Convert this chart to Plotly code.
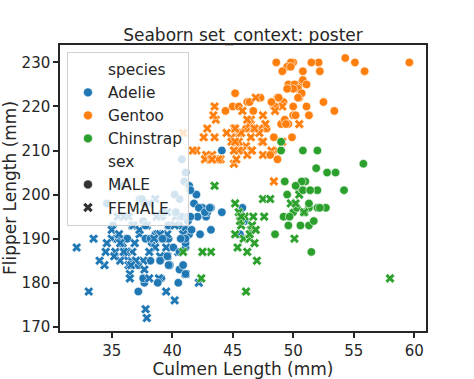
import plotly.graph_objects as go

# Adelie: culmen length, flipper length, sex (M/F)
adelie_culmen = [39.1, 39.5, 40.3, 36.7, 39.3, 38.9, 39.2, 41.1, 38.6, 34.6, 36.6, 38.7, 42.5, 34.4, 46.0,
                 37.8, 37.7, 35.9, 38.2, 38.8, 35.3, 40.6, 40.5, 37.9, 40.5,
                 39.5, 37.2, 39.5, 40.9, 36.4, 39.2, 38.8, 42.2, 37.6, 39.8, 36.5, 40.8, 36.0, 44.1, 37.0, 39.6, 41.1, 36.0, 42.3,
                 39.6, 40.1, 35.0, 42.0, 34.5, 41.4, 39.0, 40.6, 36.5, 37.6, 35.7, 41.3, 37.6, 41.1, 36.4, 41.6, 35.5, 41.1,
                 35.9, 41.8, 33.5, 39.7, 39.6, 45.8, 35.5, 42.8, 40.9, 37.2, 36.2, 42.1, 34.6, 42.9, 36.7, 35.1,
                 37.3, 41.3, 36.3, 36.9, 38.3, 38.9, 35.7, 41.1, 34.0, 39.6, 36.2, 40.8, 38.1, 40.3, 33.1, 43.2,
                 35.0, 41.0, 37.7, 37.8, 37.9, 39.7, 38.6, 38.2, 38.1, 43.2, 38.1, 45.6, 39.7, 42.2, 39.6, 42.7,
                 38.6, 37.3, 35.7, 41.1, 36.2, 37.7, 40.2, 41.4, 35.2, 40.6, 38.8, 41.5, 39.0, 44.1, 38.5, 43.1,
                 36.8, 37.5, 38.1, 41.1, 35.6, 40.2, 37.0, 39.7, 40.2, 40.6, 32.1, 40.7, 37.3, 39.0, 39.2, 36.6, 36.0, 37.8, 36.0, 41.5]
adelie_flipper = [181, 186, 195, 193, 190, 181, 195, 182, 191, 198, 185, 195, 197, 184, 194,
                  174, 180, 189, 185, 180, 187, 183, 187, 172, 180,
                  178, 178, 188, 184, 195, 196, 190, 180, 181, 184, 182, 195, 186, 196, 185, 190, 182, 190, 191,
                  186, 188, 190, 200, 187, 191, 186, 193, 181, 194, 185, 195, 185, 192, 184, 192, 195, 188,
                  190, 198, 190, 190, 196, 197, 190, 195, 191, 184, 187, 195, 189, 196, 187, 193,
                  191, 194, 190, 189, 189, 190, 202, 205, 185, 186, 187, 208, 190, 196, 178, 192,
                  192, 203, 183, 190, 193, 184, 199, 190, 181, 197, 198, 191, 193, 197, 191, 196,
                  188, 199, 189, 189, 187, 198, 176, 202, 186, 199, 191, 195, 191, 210, 190, 197,
                  193, 199, 187, 190, 191, 200, 185, 193, 193, 187, 188, 190, 192, 185, 190, 184, 195, 193, 187, 201]
adelie_sex = ["M", "F", "F", "F", "M", "F", "M", "F", "M", "M", "F", "F", "M", "F", "M",
              "F", "M", "F", "M", "M", "F", "M", "F", "F", "M",
              "F", "M", "F", "M", "F", "M", "M", "F", "M", "M", "F", "M", "F", "M", "F", "M", "M", "F", "M",
              "F", "M", "F", "M", "F", "M", "F", "M", "F", "M", "F", "M", "F", "M", "F", "M", "F", "M",
              "F", "M", "F", "M", "F", "M", "F", "M", "F", "M", "F", "M", "F", "M", "F", "M",
              "F", "M", "M", "F", "M", "F", "F", "M", "F", "M", "F", "M", "F", "M", "F", "M",
              "F", "M", "F", "M", "F", "M", "F", "M", "F", "M", "F", "M", "F", "M", "F", "M",
              "F", "M", "F", "M", "F", "M", "F", "M", "F", "M", "F", "M", "F", "M", "F", "M",
              "F", "M", "F", "M", "F", "M", "F", "M", "F", "M", "F", "M", "F", "M", "M", "F", "F", "M", "F", "M"]

gentoo_culmen = [46.1, 50.0, 48.7, 50.0, 47.6, 46.5, 45.4, 46.7, 43.3, 46.8, 40.9, 49.0, 45.5, 48.4, 45.8, 49.3,
                 42.0, 49.2, 46.2, 48.7, 50.2, 45.1, 46.5, 46.3, 42.9, 46.1, 47.8, 48.2, 50.0, 47.3, 42.8, 45.1,
                 59.6, 49.1, 48.4, 42.6, 44.4, 44.0, 48.7, 42.7, 49.6, 45.3, 49.6, 50.5, 43.6, 45.5, 50.5, 44.9,
                 45.2, 46.6, 48.5, 45.1, 50.1, 46.5, 45.0, 43.8, 45.5, 43.2, 50.4, 45.3, 46.2, 45.7, 54.3, 45.8,
                 49.8, 49.5, 43.5, 50.7, 47.7, 46.4, 48.2, 46.5, 46.4, 48.6, 47.5, 51.1, 45.2, 45.2, 49.1, 52.5,
                 47.4, 50.0, 44.9, 50.8, 43.4, 51.3, 47.5, 52.1, 47.5, 52.2, 45.5, 49.5, 44.5, 50.8, 49.4, 46.9,
                 48.4, 51.1, 48.5, 55.9, 47.2, 49.1, 46.8, 41.7, 53.4, 43.3, 48.1, 50.5, 49.8, 43.5, 51.5, 46.2,
                 55.1, 48.8, 47.2, 46.8, 50.4, 45.2, 49.9]
gentoo_flipper = [211, 230, 210, 218, 215, 210, 211, 219, 209, 215, 214, 216, 214, 213, 210, 217,
                  210, 221, 209, 222, 218, 215, 213, 215, 215, 215, 215, 210, 220, 222, 209, 207,
                  230, 220, 220, 213, 219, 208, 208, 208, 225, 210, 216, 222, 217, 210, 225, 213,
                  215, 210, 220, 210, 225, 217, 220, 208, 220, 208, 224, 208, 221, 214, 231, 219,
                  230, 229, 220, 223, 216, 221, 221, 217, 216, 230, 209, 220, 215, 223, 212, 221,
                  212, 224, 212, 228, 218, 218, 212, 230, 218, 228, 212, 224, 214, 226, 216, 222,
                  203, 225, 219, 228, 215, 228, 215, 210, 219, 208, 209, 216, 229, 213, 230, 217,
                  230, 222, 214, 215, 222, 212, 213]
gentoo_sex = ["F", "M", "F", "M", "M", "F", "F", "M", "F", "M", "F", "M", "F", "M", "F", "M",
              "F", "M", "F", "M", "M", "F", "F", "M", "F", "M", "M", "F", "M", "M", "F", "F",
              "M", "F", "M", "F", "M", "F", "M", "F", "M", "F", "M", "M", "F", "F", "M", "F",
              "M", "F", "M", "F", "M", "F", "M", "F", "M", "F", "M", "F", "M", "F", "M", "F",
              "M", "M", "F", "M", "F", "M", "M", "F", "F", "M", "F", "M", "F", "M", "F", "M",
              "F", "M", "F", "M", "F", "M", "F", "M", "F", "M", "F", "M", "F", "M", "M", "F",
              "F", "M", "F", "M", "F", "M", "M", "F", "M", "F", "M", "F", "M", "F", "M", "F",
              "M", "M", "F", "F", "M", "F", "M"]

chinstrap_culmen = [46.5, 50.0, 51.3, 45.4, 52.7, 45.2, 46.1, 51.3, 46.0, 51.3, 46.6, 51.7, 47.0, 52.0, 45.9, 50.5,
                    50.3, 58.0, 46.4, 49.2, 42.4, 48.5, 43.2, 50.6, 46.7, 52.0, 50.5, 49.5, 46.4, 52.8, 40.9, 54.2,
                    42.5, 51.0, 49.7, 47.5, 47.6, 52.0, 46.9, 53.5, 49.0, 46.2, 50.9, 45.5, 50.9, 50.8, 50.1, 49.0,
                    51.5, 49.8, 48.1, 51.4, 45.7, 50.7, 42.5, 52.2, 45.2, 49.3, 50.2, 45.6, 51.9, 46.8, 45.7, 55.8,
                    43.5, 49.6, 50.8, 50.2]
chinstrap_flipper = [192, 196, 193, 188, 197, 198, 178, 197, 195, 198, 193, 194, 185, 201, 190, 201,
                     197, 181, 190, 195, 181, 191, 187, 193, 195, 197, 200, 200, 191, 205, 187, 201,
                     187, 203, 195, 199, 195, 210, 192, 205, 210, 187, 196, 196, 196, 201, 190, 212,
                     187, 198, 199, 201, 193, 203, 187, 197, 191, 203, 202, 194, 206, 189, 195, 207,
                     202, 193, 210, 198]
chinstrap_sex = ["F", "M", "M", "F", "M", "F", "F", "M", "F", "M", "F", "M", "F", "M", "F", "M",
                 "M", "F", "F", "M", "F", "M", "F", "M", "F", "M", "F", "M", "F", "M", "F", "M",
                 "F", "M", "M", "F", "F", "M", "F", "M", "M", "F", "M", "F", "F", "M", "F", "M",
                 "M", "F", "F", "M", "F", "M", "F", "M", "F", "M", "M", "F", "M", "F", "F", "M",
                 "F", "M", "M", "F"]

species_names = ["Adelie", "Gentoo", "Chinstrap"]
species_colors = ["#1f77b4", "#ff7f0e", "#2ca02c"]
sex_names = ["MALE", "FEMALE"]

x_ticks = [35, 40, 45, 50, 55, 60]
y_ticks = [170, 180, 190, 200, 210, 220, 230]

FONT = "DejaVu Sans"
TXT = "#262626"
symbol_map = {"M": "circle", "F": "x"}

fig = go.Figure()

series = [(adelie_culmen, adelie_flipper, adelie_sex),
          (gentoo_culmen, gentoo_flipper, gentoo_sex),
          (chinstrap_culmen, chinstrap_flipper, chinstrap_sex)]

for name, color, (xs, ys, sx) in zip(species_names, species_colors, series):
    fig.add_trace(go.Scatter(
        x=xs, y=ys, mode="markers", name=name, showlegend=False,
        marker=dict(color=color, size=8.5, symbol=[symbol_map[s] for s in sx],
                    line=dict(color="white", width=0.6)),
    ))

# legend entries
def legend_entry(name, color, symbol, opacity=1.0):
    fig.add_trace(go.Scatter(
        x=[None], y=[None], mode="markers", name=name, legendgroup=name,
        marker=dict(color=color, size=9, symbol=symbol, opacity=opacity,
                    line=dict(color="white", width=0.6)),
    ))

legend_entry("species", "white", "circle", opacity=0)
for name, color in zip(species_names, species_colors):
    legend_entry(name, color, "circle")
legend_entry("sex", "white", "circle", opacity=0)
legend_entry(sex_names[0], "#333333", "circle")
legend_entry(sex_names[1], "#333333", "x")

fig.update_layout(
    width=474, height=379,
    margin=dict(l=60, r=48, t=45, b=48),
    paper_bgcolor="white", plot_bgcolor="white",
    font=dict(family=FONT, color=TXT, size=15),
    title=dict(text="Seaborn set_context: poster", x=243 / 474, xanchor="center",
               y=1 - 35 / 379, yanchor="middle", yref="container",
               font=dict(family=FONT, size=17, color=TXT)),
    legend=dict(x=0.019, y=0.976, xanchor="left", yanchor="top",
                bgcolor="rgba(255,255,255,0.8)", bordercolor="#d0d0d0", borderwidth=1,
                font=dict(family=FONT, size=15.4, color=TXT), tracegroupgap=0,
                traceorder="normal", entrywidth=92, entrywidthmode="pixels"),
)
fig.update_xaxes(
    range=[30.725, 60.975], tickvals=x_ticks, ticks="outside", ticklen=5, tickwidth=1.5,
    tickcolor=TXT, showline=True, linecolor=TXT, linewidth=1.5, mirror=True,
    showgrid=False, zeroline=False, tickfont=dict(size=15), automargin=False,
    title=dict(text="Culmen Length (mm)", font=dict(size=17), standoff=2),
)
fig.update_yaxes(
    range=[169.05, 233.95], tickvals=y_ticks, ticks="outside", ticklen=5, tickwidth=1.5,
    tickcolor=TXT, showline=True, linecolor=TXT, linewidth=1.5, mirror=True,
    showgrid=False, zeroline=False, tickfont=dict(size=15), automargin=False,
    title=dict(text="Flipper Length (mm)", font=dict(size=17), standoff=2),
)

fig.write_html("out.html", config={"displayModeBar": False},
               post_script="document.body.style.margin='0';")
